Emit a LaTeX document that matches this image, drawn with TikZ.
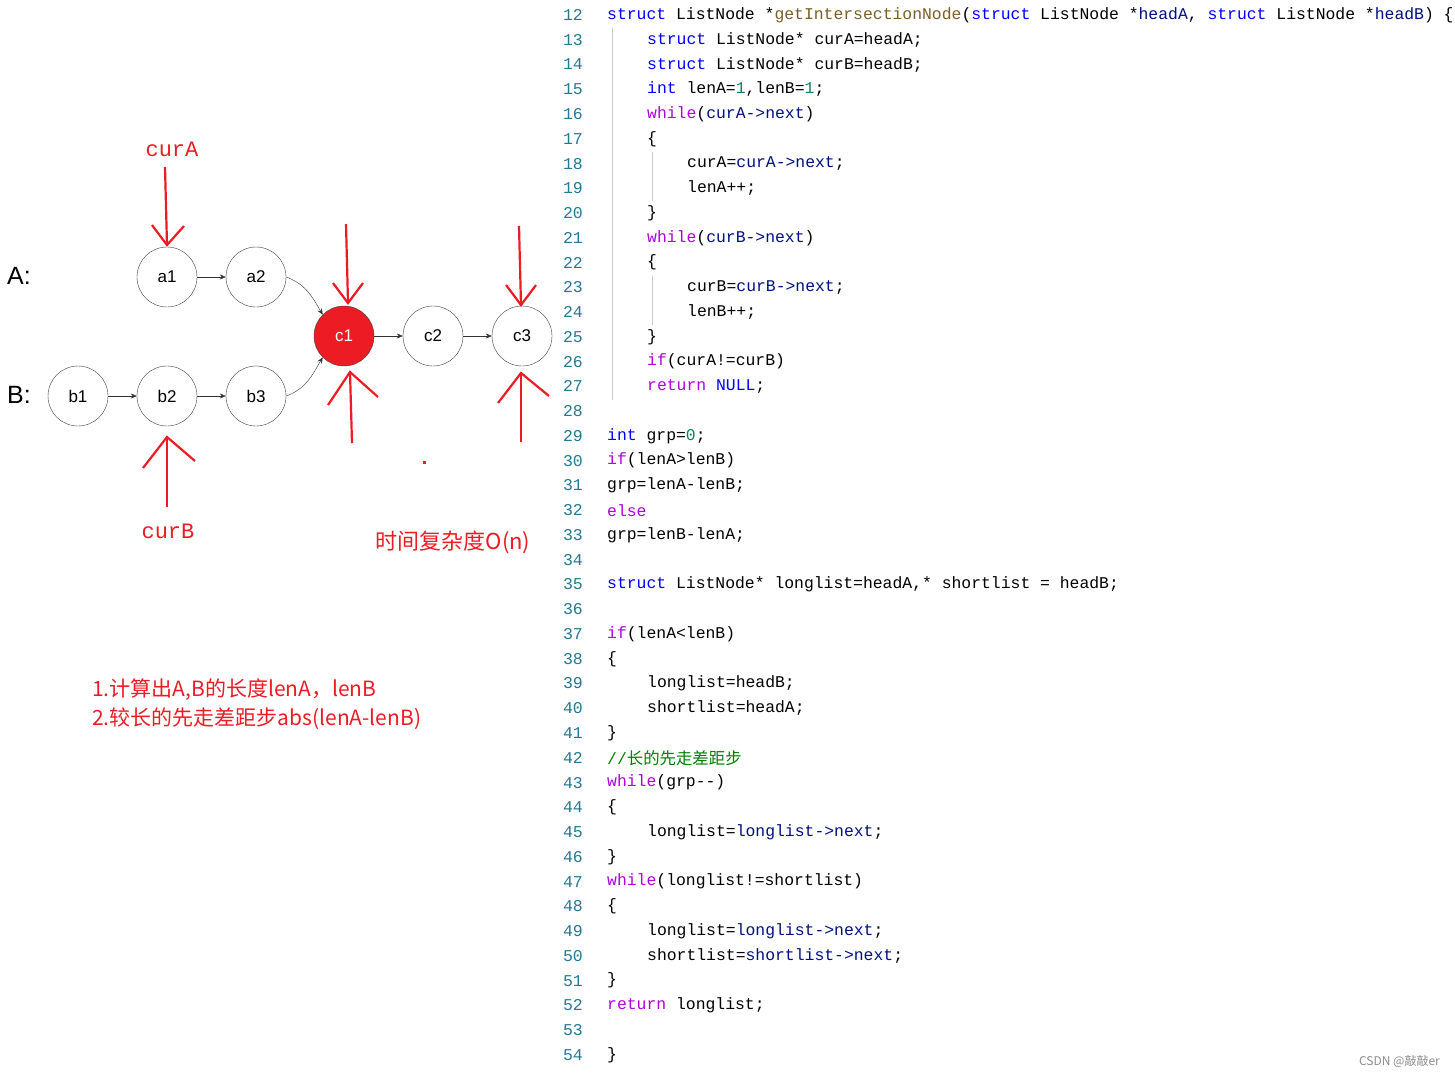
\documentclass[tikz,border=0pt]{standalone}
\usepackage{fontspec}
\usetikzlibrary{arrows.meta}
\setsansfont{Liberation Sans}
\newfontfamily\cf{Liberation Mono}
\newfontfamily\cjk{Noto Sans CJK SC}
\newfontfamily\rs{Liberation Serif}
\definecolor{kwc}{HTML}{0000FF}
\definecolor{ctc}{HTML}{AF00DB}
\definecolor{nmc}{HTML}{098658}
\definecolor{fnc}{HTML}{795E26}
\definecolor{vrc}{HTML}{001080}
\definecolor{lnc}{HTML}{237893}
\definecolor{cmc}{HTML}{008000}
\definecolor{redc}{HTML}{ED1C24}
\newcommand\K[1]{\textcolor{kwc}{#1}}
\newcommand\C[1]{\textcolor{ctc}{#1}}
\newcommand\N[1]{\textcolor{nmc}{#1}}
\newcommand\F[1]{\textcolor{fnc}{#1}}
\newcommand\V[1]{\textcolor{vrc}{#1}}
\newcommand\cl[3]{%
 \node[lnum] (n#1) at (583,{15+(#1-12)*24.76}) {#1};
 \node[code] (l#1) at ({607+#2*40},{15+(#1-12)*24.76}) {#3};}
\tikzset{
 lnum/.style={anchor=east,inner sep=0,font=\cf\fontsize{16.5}{17}\selectfont,text=lnc},
 code/.style={anchor=west,inner sep=0,font=\cf\fontsize{16.4}{18}\selectfont},
 ln/.style={circle,draw=black!75,minimum size=60pt,inner sep=0,font=\sffamily\fontsize{17}{17}\selectfont},
 ar/.style={-{Stealth[length=6pt,width=5pt]},black!80},
 rd/.style={redc,line width=2.2pt},
 rt/.style={text=redc,inner sep=0}
}
\begin{document}
\begin{tikzpicture}[x=1pt,y=-1pt]
\useasboundingbox[fill=white] (0,0) rectangle (1455,1077);
% diagram
\node[ln] (a1) at (167,277) {a1};
\node[ln] (a2) at (256,277) {a2};
\node[ln,fill=redc,text=white] (c1) at (344,336) {c1};
\node[ln] (c2) at (433,336) {c2};
\node[ln] (c3) at (522,336) {c3};
\node[ln] (b1) at (78,396) {b1};
\node[ln] (b2) at (167,396) {b2};
\node[ln] (b3) at (256,396) {b3};
\node[inner sep=0,font=\sffamily\fontsize{25}{25}\selectfont] (la) at (19,276) {A:};
\node[inner sep=0,font=\sffamily\fontsize{25}{25}\selectfont] (lb) at (19,395) {B:};
\draw[ar] (a1) -- (a2);
\draw[ar] (c1) -- (c2);
\draw[ar] (c2) -- (c3);
\draw[ar] (b1) -- (b2);
\draw[ar] (b2) -- (b3);
\draw[ar] (a2.east) to[out=-20,in=120] (c1.north west);
\draw[ar] (b3.east) to[out=20,in=-120] (c1.south west);
% red pointers
\draw[rd] (165,167) -- (167,245);
\draw[rd] (152,225) -- (167,245) -- (184,226);
\draw[rd] (346,224) -- (348,302);
\draw[rd] (333,283) -- (348,303) -- (363,283);
\draw[rd] (519,226) -- (521,305);
\draw[rd] (506,285) -- (521,305) -- (536,285);
\draw[rd] (352,443) -- (350,372);
\draw[rd] (328,405) -- (350,372) -- (378,397);
\draw[rd] (521,442) -- (521,373);
\draw[rd] (498,403) -- (521,373) -- (549,396);
\draw[rd] (167,507) -- (167,437);
\draw[rd] (143,468) -- (167,437) -- (195,461);
\fill[redc] (422.5,460.5) rectangle (425.5,463.5);
\node[rt,font=\cf\fontsize{22}{22}\selectfont] (ca) at (172,149) {curA};
\node[rt,font=\cf\fontsize{22}{22}\selectfont] (cb) at (168,531) {curB};
\node[rt,font=\cjk\fontsize{22}{22}\selectfont] (tc) at (453,542) {时间复杂度O(n)};
\node[rt,anchor=west,font=\cjk\fontsize{21}{21}\selectfont] (s1) at (92,690) {1.计算出A,B的长度lenA，lenB};
\node[rt,anchor=west,font=\cjk\fontsize{21}{21}\selectfont] (s2) at (92,719) {2.较长的先走差距步abs(lenA-lenB)};
% indent guides
\draw[black!20] (612,28) -- (612,400);
\draw[black!20] (652,152) -- (652,201);
\draw[black!20] (652,276) -- (652,325);
% code
\cl{12}{0}{\K{struct} ListNode *\F{getIntersectionNode}(\K{struct} ListNode *\V{headA}, \K{struct} ListNode *\V{headB}) \{}
\cl{13}{1}{\K{struct} ListNode* curA=headA;}
\cl{14}{1}{\K{struct} ListNode* curB=headB;}
\cl{15}{1}{\K{int} lenA=\N{1},lenB=\N{1};}
\cl{16}{1}{\C{while}(\V{curA->next})}
\cl{17}{1}{\{}
\cl{18}{2}{curA=\V{curA->next};}
\cl{19}{2}{lenA++;}
\cl{20}{1}{\}}
\cl{21}{1}{\C{while}(\V{curB->next})}
\cl{22}{1}{\{}
\cl{23}{2}{curB=\V{curB->next};}
\cl{24}{2}{lenB++;}
\cl{25}{1}{\}}
\cl{26}{1}{\C{if}(curA!=curB)}
\cl{27}{1}{\C{return} \K{NULL};}
\node[lnum] (n28) at (583,{15+16*24.76}) {28};
\cl{29}{0}{\K{int} grp=\N{0};}
\cl{30}{0}{\C{if}(lenA>lenB)}
\cl{31}{0}{grp=lenA-lenB;}
\cl{32}{0}{\C{else}}
\cl{33}{0}{grp=lenB-lenA;}
\node[lnum] (n34) at (583,{15+22*24.76}) {34};
\cl{35}{0}{\K{struct} ListNode* longlist=headA,* shortlist = headB;}
\node[lnum] (n36) at (583,{15+24*24.76}) {36};
\cl{37}{0}{\C{if}(lenA<lenB)}
\cl{38}{0}{\{}
\cl{39}{1}{longlist=headB;}
\cl{40}{1}{shortlist=headA;}
\cl{41}{0}{\}}
\cl{42}{0}{\textcolor{cmc}{//{\cjk 长的先走差距步}}}
\cl{43}{0}{\C{while}(grp-{}-)}
\cl{44}{0}{\{}
\cl{45}{1}{longlist=\V{longlist->next};}
\cl{46}{0}{\}}
\cl{47}{0}{\C{while}(longlist!=shortlist)}
\cl{48}{0}{\{}
\cl{49}{1}{longlist=\V{longlist->next};}
\cl{50}{1}{shortlist=\V{shortlist->next};}
\cl{51}{0}{\}}
\cl{52}{0}{\C{return} longlist;}
\node[lnum] (n53) at (583,{15+41*24.76}) {53};
\cl{54}{0}{\}}
\node[anchor=east,inner sep=0,text=black!45,font=\cjk\fontsize{12}{12}\selectfont] (wm) at (1440,1061) {CSDN @敲敲er};
\end{tikzpicture}
\end{document}
